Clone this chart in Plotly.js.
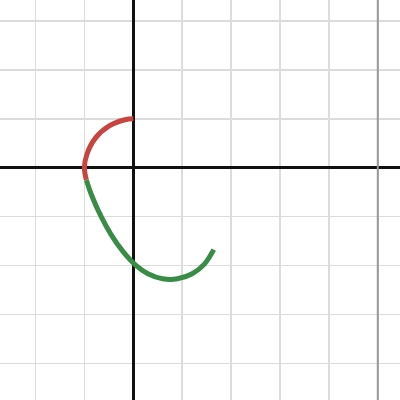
<!DOCTYPE html>
<html>
<head>
<meta charset="utf-8">
<script src="https://cdn.plot.ly/plotly-3.0.1.min.js"></script>
<style>
  html, body { margin: 0; padding: 0; background: #fff; }
  #plot { width: 400px; height: 400px; }
</style>
</head>
<body>
<div id="plot"></div>
<script>
"use strict";

// red arc
const redX = [0, -0.17, -0.5, -0.78, -0.95, -1.0, -0.96];
const redY = [1.0, 0.98, 0.85, 0.6, 0.27, 0.0, -0.25];

// green tail
const greenX = [-0.96, -0.853, -0.662, -0.454, -0.213, 0.053, 0.299, 0.602, 0.902, 1.205, 1.449, 1.645];
const greenY = [-0.25, -0.562, -0.991, -1.367, -1.711, -1.996, -2.168, -2.272, -2.272, -2.168, -1.977, -1.675];

// gray vertical line x = 5
const grayX = [5, 5];
const grayY = [-10, 10];

const xRange = [-2.726, 5.454];
const yRange = [-4.75, 3.43];

const traces = [
    {
        type: "scatter", mode: "lines",
        x: grayX, y: grayY,
        line: { color: "#999999", width: 2 },
        hoverinfo: "skip"
    },
    {
        type: "scatter", mode: "lines",
        x: redX, y: redY,
        line: { color: "#c74440", width: 5, shape: "spline", smoothing: 1 }
    },
    {
        type: "scatter", mode: "lines",
        x: greenX, y: greenY,
        line: { color: "#388c46", width: 5, shape: "spline", smoothing: 1 }
    }
];

const axisCommon = {
    dtick: 1,
    showticklabels: false,
    ticks: "",
    showgrid: true,
    gridcolor: "#dcdcdc",
    gridwidth: 1.5,
    zeroline: true,
    zerolinecolor: "#111111",
    zerolinewidth: 3,
    showline: false,
    fixedrange: true
};

const layout = {
    width: 400,
    height: 400,
    margin: { t: 0, l: 0, r: 0, b: 0 },
    showlegend: false,
    paper_bgcolor: "#ffffff",
    plot_bgcolor: "#ffffff",
    xaxis: Object.assign({}, axisCommon, { range: xRange, tick0: 0 }),
    yaxis: Object.assign({}, axisCommon, { range: yRange, tick0: 0 })
};

Plotly.newPlot("plot", traces, layout, { staticPlot: true, displayModeBar: false });
</script>
</body>
</html>
